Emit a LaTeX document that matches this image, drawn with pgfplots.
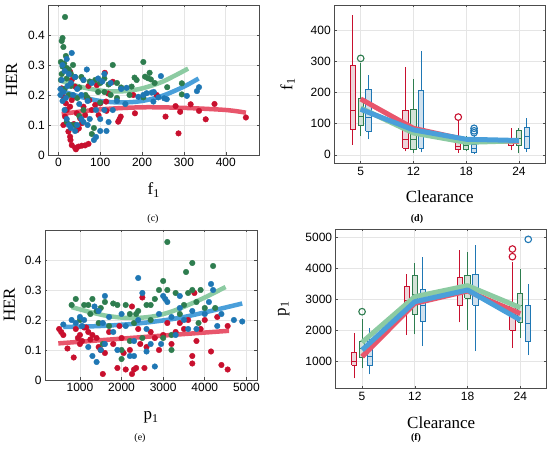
\documentclass[border=0pt]{standalone}
\usepackage{pgfplots}
\pgfplotsset{compat=1.18}
\usepackage{fontspec}
\setmainfont{Liberation Serif}
\newfontfamily\tickfont{Liberation Sans}
\definecolor{cR}{HTML}{C8102E}
\definecolor{cG}{HTML}{2E7D4F}
\definecolor{cB}{HTML}{1F77B4}
\definecolor{lR}{HTML}{E8566C}
\definecolor{lG}{HTML}{8CCBA2}
\definecolor{lB}{HTML}{4A9FDA}
\definecolor{fR}{HTML}{EDD5DA}
\definecolor{fG}{HTML}{D3E2D7}
\definecolor{fB}{HTML}{D0E1EE}
\pgfplotsset{
 base/.style={scale only axis, anchor=south west,
  axis line style={draw=black!70,line width=0.9pt},
  grid=major, major grid style={draw=black!10,line width=0.7pt},
  tick align=inside, major tick length=2.5pt, tick style={draw=black!70,line width=0.6pt},
  ticklabel style={font=\tickfont\fontsize{12}{12}\selectfont},
  /pgf/number format/assume math mode=true, /pgf/number format/1000 sep={},
  scaled ticks=false,
  label style={font=\fontsize{17}{18}\selectfont},
 },
 sc/.style={only marks, mark=*, mark size=2.8pt, mark options={draw=#1, fill=#1}},
 fit/.style={no marks, smooth, line width=4.5pt, draw=#1},
 tl/.style={no marks, line width=5pt, draw=#1, line join=round},
 out/.style={only marks, mark=o, mark size=3.3pt, draw=#1, mark options={fill=white, line width=1.1pt}},
}
% box: color, fill, position, lower whisker, lower quartile, median, upper quartile, upper whisker
\newcommand{\bx}[8]{%
 \pgfmathsetmacro\bL{#3-0.05}\pgfmathsetmacro\bRt{#3+0.05}%
 \addplot[draw=#1, line width=1pt, no marks] coordinates {(#3,#4)(#3,#5)};
 \addplot[draw=#1, line width=1pt, no marks] coordinates {(#3,#7)(#3,#8)};
 \addplot[draw=#1, fill=#2, line width=1pt, no marks] coordinates {(\bL,#5)(\bRt,#5)(\bRt,#7)(\bL,#7)(\bL,#5)};
 \addplot[draw=#1, line width=1pt, no marks] coordinates {(\bL,#6)(\bRt,#6)};
}
\begin{document}
\begin{tikzpicture}
\useasboundingbox (0,0) rectangle (550pt,449pt);
% ---------------- (c)
\begin{axis}[base, at={(48.3pt,294pt)}, width=211pt, height=150pt,
 xmin=-24, xmax=480, ymin=0, ymax=0.5, xtick={0,100,200,300,400}, ytick={0,0.1,0.2,0.3,0.4},
 xlabel={f\textsubscript{1}}, ylabel={HER}, xlabel style={yshift=-9pt}, ylabel style={yshift=4pt}]
\addplot[sc=cR] coordinates {(448,0.125)(352,0.119)(373,0.17)(336,0.147)(316,0.169)(291,0.144)(287,0.072)(280,0.163)(256,0.128)(183,0.139)(149,0.128)(146,0.119)(143,0.111)(130,0.244)(111,0.274)(114,0.178)(115,0.147)(119,0.205)(100,0.172)(92,0.233)(72,0.23)(68,0.192)(74,0.183)(42,0.019)(48,0.028)(56,0.031)(64,0.032)(72,0.037)(32,0.033)(29,0.05)(28,0.061)(24,0.078)(40,0.024)(12,0.1)(16,0.128)(20,0.15)(28,0.161)(32,0.183)(36,0.194)(44,0.139)(52,0.122)(56,0.106)(60,0.161)(49,0.089)(44,0.083)(37,0.103)(64,0.133)(80,0.15)(88,0.167)(96,0.133)(32,0.25)(40,0.228)(28,0.278)(12,0.194)(8,0.222)(18,0.172)(235,0.2)(179,0.2)};
\addplot[sc=cG] coordinates {(16,0.46)(10,0.39)(8,0.38)(12,0.36)(18,0.33)(6,0.31)(14,0.305)(10,0.295)(20,0.29)(8,0.27)(6,0.25)(25,0.285)(35,0.3)(30,0.27)(40,0.26)(55,0.26)(60,0.25)(75,0.245)(88,0.25)(100,0.24)(110,0.255)(120,0.235)(130,0.3)(140,0.24)(150,0.225)(175,0.228)(182,0.258)(187,0.25)(203,0.31)(207,0.261)(214,0.256)(218,0.274)(221,0.252)(203,0.192)(230,0.24)(260,0.226)(295,0.239)(295,0.202)(170,0.2)(140,0.19)(100,0.175)(70,0.19)(60,0.15)(50,0.13)(40,0.1)(30,0.1)(20,0.11)(80,0.07)(85,0.09)(30,0.23)(45,0.19)(25,0.2)(15,0.22)(65,0.2)(95,0.21)(110,0.21)(125,0.2)(50,0.225)(20,0.255)};
\addplot[sc=cB] coordinates {(32,0.34)(10,0.3)(20,0.32)(15,0.28)(25,0.27)(40,0.26)(60,0.25)(68,0.285)(80,0.24)(95,0.255)(105,0.245)(110,0.27)(125,0.24)(150,0.22)(163,0.224)(191,0.194)(203,0.2)(211,0.206)(223,0.208)(228,0.21)(245,0.263)(239,0.192)(253,0.189)(259,0.186)(227,0.178)(307,0.197)(331,0.213)(336,0.226)(8,0.25)(5,0.2)(10,0.18)(15,0.15)(20,0.12)(25,0.1)(30,0.09)(40,0.08)(45,0.1)(55,0.12)(60,0.11)(70,0.1)(75,0.12)(85,0.05)(90,0.06)(100,0.08)(115,0.08)(120,0.11)(130,0.15)(100,0.12)(90,0.15)(110,0.15)(50,0.17)(35,0.2)(45,0.22)(70,0.18)(140,0.18)(160,0.17)(5,0.22)(12,0.21)(18,0.19)(22,0.23)(30,0.24)(55,0.2)};
\addplot[fit=lR] coordinates {(8,0.137)(100,0.152)(200,0.159)(300,0.157)(400,0.15)(448,0.141)};
\addplot[fit=lG] coordinates {(5,0.248)(50,0.228)(100,0.215)(130,0.212)(160,0.213)(200,0.222)(250,0.245)(310,0.288)};
\addplot[fit=lB] coordinates {(5,0.215)(50,0.195)(100,0.18)(150,0.175)(200,0.18)(250,0.198)(300,0.228)(335,0.255)};
\end{axis}
% ---------------- (d)
\begin{axis}[base, at={(334.3pt,285.7pt)}, width=211pt, height=158.3pt,
 xmin=0.5, xmax=4.5, ymin=-27, ymax=480, xtick={1,2,3,4}, xticklabels={5,12,18,24},
 ytick={0,100,200,300,400}, xlabel={Clearance}, ylabel={f\textsubscript{1}},
 xlabel style={yshift=-9pt}, ylabel style={yshift=9pt}]
\bx{cR}{fR}{0.85}{33}{82}{141}{285}{448}
\bx{cG}{fG}{1.0}{59}{93}{123}{179}{293}
\bx{cB}{fB}{1.15}{50}{75}{119}{210}{256}
\bx{cR}{fR}{1.85}{11}{21}{48}{141}{283}
\bx{cG}{fG}{2.0}{7}{16}{50}{144}{243}
\bx{cB}{fB}{2.15}{8}{21}{85}{205}{334}
\bx{cR}{fR}{2.85}{7}{16}{27}{43}{107}
\bx{cG}{fG}{3.0}{11}{16}{30}{55}{60}
\bx{cB}{fB}{3.15}{5}{7}{21}{32}{59}
\bx{cR}{fR}{3.85}{14}{30}{43}{53}{85}
\bx{cG}{fG}{4.0}{5}{30}{53}{77}{85}
\bx{cB}{fB}{4.15}{9}{21}{59}{87}{119}
\addplot[out=cG] coordinates {(1.0,309)};
\addplot[out=cR] coordinates {(2.85,121)};
\addplot[out=cB] coordinates {(3.15,71)(3.15,77)(3.15,85)};
\addplot[tl=lR] coordinates {(1,179)(2,85)(3,48)(4,43)};
\addplot[tl=lG] coordinates {(1,150)(2,70)(3,40)(4,45)};
\addplot[tl=lB] coordinates {(1,146)(2,80)(3,50)(4,46)};
\end{axis}
% ---------------- (e)
\begin{axis}[base, at={(45pt,69pt)}, width=212pt, height=150pt,
 xmin=160, xmax=5255, ymin=0, ymax=0.5, xtick={1000,2000,3000,4000,5000}, ytick={0,0.1,0.2,0.3,0.4},
 xlabel={p\textsubscript{1}}, ylabel={HER}, xlabel style={yshift=-13pt}, ylabel style={yshift=3pt}]
\addplot[sc=cR] coordinates {(500,0.17)(550,0.16)(600,0.15)(700,0.105)(850,0.075)(900,0.17)(950,0.14)(1000,0.12)(1000,0.15)(1050,0.13)(1100,0.175)(1200,0.16)(1300,0.15)(1400,0.14)(1450,0.11)(1500,0.1)(1550,0.02)(1600,0.09)(1700,0.16)(1800,0.12)(1900,0.04)(1950,0.18)(2000,0.14)(2050,0.09)(2100,0.035)(2200,0.1)(2250,0.245)(2250,0.02)(2300,0.035)(2350,0.04)(2400,0.17)(2450,0.12)(2500,0.275)(2550,0.04)(2600,0.11)(2700,0.16)(2800,0.14)(2900,0.1)(3000,0.15)(3100,0.19)(3200,0.12)(3300,0.16)(3400,0.19)(3500,0.17)(3600,0.2)(3700,0.08)(3700,0.055)(3750,0.29)(3800,0.13)(3900,0.17)(4000,0.2)(4150,0.095)(4300,0.21)(4400,0.05)(4550,0.035)(4550,0.18)(1150,0.175)(1250,0.135)};
\addplot[sc=cG] coordinates {(800,0.25)(900,0.27)(1000,0.2)(1100,0.25)(1200,0.25)(1300,0.27)(1400,0.23)(1500,0.24)(1600,0.26)(1700,0.18)(1800,0.255)(1900,0.25)(2000,0.07)(2000,0.1)(2100,0.25)(2200,0.22)(2300,0.19)(2400,0.23)(2500,0.14)(2600,0.25)(2700,0.2)(2800,0.27)(2900,0.3)(3000,0.33)(3100,0.46)(3100,0.3)(3200,0.1)(3200,0.15)(3300,0.29)(3400,0.22)(3500,0.25)(3550,0.36)(3600,0.29)(3700,0.39)(3700,0.3)(3800,0.26)(3850,0.19)(3900,0.3)(4000,0.24)(4200,0.38)(4250,0.24)(1250,0.22)(1450,0.19)(1550,0.12)(2200,0.13)(2700,0.25)(3000,0.14)(2350,0.22)};
\addplot[sc=cB] coordinates {(600,0.185)(800,0.2)(900,0.19)(1000,0.21)(1050,0.18)(1100,0.2)(1200,0.11)(1300,0.08)(1400,0.06)(1450,0.23)(1500,0.1)(1600,0.28)(1600,0.12)(1700,0.21)(1800,0.16)(1900,0.1)(2000,0.22)(2100,0.18)(2200,0.08)(2300,0.13)(2400,0.34)(2400,0.2)(2500,0.29)(2600,0.17)(2700,0.12)(2800,0.045)(2900,0.22)(2950,0.12)(3000,0.28)(3050,0.27)(3100,0.26)(3200,0.21)(3300,0.15)(3400,0.28)(3500,0.2)(3600,0.17)(3700,0.23)(3800,0.17)(4000,0.22)(4100,0.26)(4150,0.32)(4200,0.3)(4300,0.18)(4400,0.22)(4700,0.2)(4900,0.195)(1350,0.245)(1550,0.19)(2300,0.08)(2600,0.095)(3400,0.24)};
\addplot[fit=lR] coordinates {(480,0.122)(2500,0.143)(4584,0.164)};
\addplot[fit=lB] coordinates {(600,0.177)(1500,0.18)(2500,0.19)(3500,0.21)(4900,0.255)};
\addplot[fit=lG] coordinates {(800,0.243)(1200,0.228)(1600,0.215)(2000,0.208)(2400,0.207)(2800,0.213)(3200,0.228)(3600,0.25)(4000,0.275)(4500,0.31)};
\end{axis}
% ---------------- (f)
\begin{axis}[base, at={(335.7pt,60.7pt)}, width=211pt, height=159.3pt,
 xmin=0.5, xmax=4.5, ymin=142, ymax=5280, xtick={1,2,3,4}, xticklabels={5,12,18,24},
 ytick={1000,2000,3000,4000,5000}, xlabel={Clearance}, ylabel={p\textsubscript{1}},
 xlabel style={yshift=-10pt}, ylabel style={yshift=9pt}]
\bx{cR}{fR}{0.85}{462}{892}{1022}{1290}{1914}
\bx{cG}{fG}{1.0}{785}{1140}{1430}{1667}{2376}
\bx{cB}{fB}{1.15}{591}{871}{1183}{1700}{2075}
\bx{cR}{fR}{1.85}{1860}{2667}{2989}{3419}{3817}
\bx{cG}{fG}{2.0}{1882}{2527}{3183}{3796}{4194}
\bx{cB}{fB}{2.15}{1505}{2290}{2828}{3344}{4387}
\bx{cR}{fR}{2.85}{2269}{2828}{3258}{3710}{4602}
\bx{cG}{fG}{3.0}{2022}{3043}{3441}{3774}{4527}
\bx{cB}{fB}{3.15}{1344}{2828}{3312}{3828}{4763}
\bx{cR}{fR}{3.85}{1452}{2022}{2505}{2828}{4204}
\bx{cG}{fG}{4.0}{1774}{2269}{2828}{3204}{3979}
\bx{cB}{fB}{4.15}{1215}{1645}{2237}{2828}{3505}
\addplot[out=cG] coordinates {(1.0,2613)};
\addplot[out=cR] coordinates {(3.85,4387)(3.85,4634)};
\addplot[out=cB] coordinates {(4.15,4946)};
\addplot[tl=lR] coordinates {(1,1161)(2,2882)(3,3280)(4,2550)};
\addplot[tl=lG] coordinates {(1,1624)(2,3097)(3,3452)(4,2742)};
\addplot[tl=lB] coordinates {(1,1376)(2,2935)(3,3312)(4,2344)};
\end{axis}
\node[font=\fontsize{10}{11}\selectfont] at (153pt,230pt) {(c)};
\node[font=\bfseries\fontsize{10}{11}\selectfont] at (417pt,230pt) {(d)};
\node[font=\fontsize{10}{11}\selectfont] at (140pt,11pt) {(e)};
\node[font=\bfseries\fontsize{10}{11}\selectfont] at (416pt,11pt) {(f)};
\end{tikzpicture}
\end{document}
